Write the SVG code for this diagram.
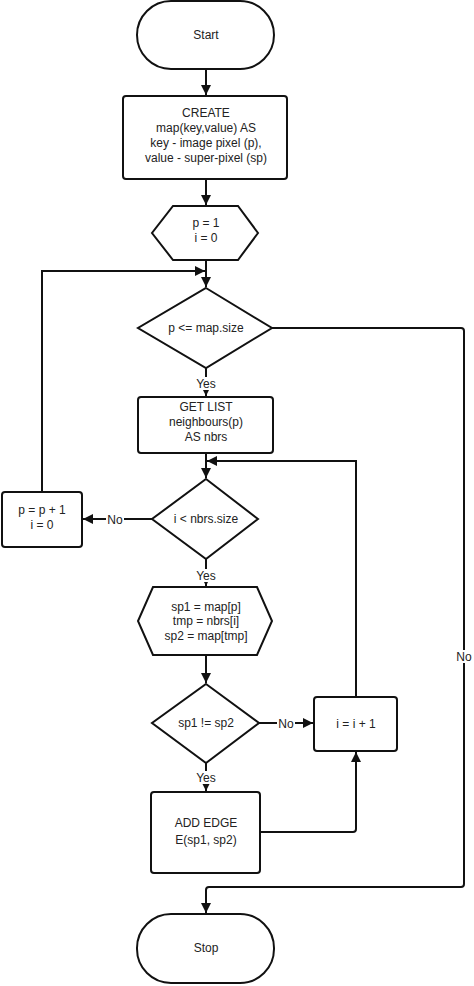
<svg xmlns="http://www.w3.org/2000/svg" width="474" height="986" viewBox="0 0 474 986">
<style>
.s{fill:#fff;stroke:#111;stroke-width:2}
.t{font-family:"Liberation Sans",Arial,sans-serif;font-size:12px;fill:#222;text-anchor:middle}
.c{fill:none;stroke:#111;stroke-width:2}
.lb{fill:#fff}
</style>
<defs>
<marker id="ah" viewBox="0 0 10 10" refX="10" refY="5" markerWidth="10" markerHeight="10" markerUnits="userSpaceOnUse" orient="auto">
<path d="M0,0 L10,5 L0,10 z" fill="#111"/>
</marker>
</defs>
<rect width="474" height="986" fill="#fff"/>
<g id="connectors">
<path class="c" d="M206,69 V95" marker-end="url(#ah)"/>
<path class="c" d="M206,179 V205" marker-end="url(#ah)"/>
<path class="c" d="M206,260 V287" marker-end="url(#ah)"/>
<path class="c" d="M42,492 V271 H205" marker-end="url(#ah)"/>
<path class="c" d="M206,368 V396" marker-end="url(#ah)"/>
<path class="c" d="M272,328 H461 Q464,328 464,331 V884 Q464,887 461,887 H209 Q206,887 206,890 V913" marker-end="url(#ah)"/>
<path class="c" d="M206,453 V478" marker-end="url(#ah)"/>
<path class="c" d="M356,697 V461 H207" marker-end="url(#ah)"/>
<path class="c" d="M152,519 H83" marker-end="url(#ah)"/>
<path class="c" d="M206,559 V586" marker-end="url(#ah)"/>
<path class="c" d="M206,655 V683" marker-end="url(#ah)"/>
<path class="c" d="M259,723 H313" marker-end="url(#ah)"/>
<path class="c" d="M206,763 V791" marker-end="url(#ah)"/>
<path class="c" d="M260,832 H353 Q356,832 356,829 V752" marker-end="url(#ah)"/>
<rect class="lb" x="194" y="377" width="24" height="13"/>
<text class="t" x="206" y="388">Yes</text>
<rect class="lb" x="194" y="569" width="24" height="13"/>
<text class="t" x="206" y="580">Yes</text>
<rect class="lb" x="194" y="771" width="24" height="13"/>
<text class="t" x="206" y="782">Yes</text>
<rect class="lb" x="106" y="513" width="18" height="13"/>
<text class="t" x="115" y="524">No</text>
<rect class="lb" x="277" y="717" width="18" height="13"/>
<text class="t" x="286" y="728">No</text>
<rect class="lb" x="456" y="650" width="16" height="13"/>
<text class="t" x="464" y="661">No</text>
</g>
<g id="start">
<rect class="s" x="137" y="1" width="137" height="68" rx="34"/>
<text class="t" x="206" y="39">Start</text>
</g>
<g id="create">
<rect class="s" x="123" y="96" width="164" height="83" rx="3"/>
<text class="t" x="206" y="117">CREATE</text>
<text class="t" x="206" y="132">map(key,value) AS</text>
<text class="t" x="206" y="147">key - image pixel (p),</text>
<text class="t" x="206" y="162">value - super-pixel (sp)</text>
</g>
<g id="init">
<path class="s" d="M173,206 H238 L258,233 L238,260 H173 L152,233 Z"/>
<text class="t" x="206" y="227">p = 1</text>
<text class="t" x="206" y="242">i = 0</text>
</g>
<g id="cond-p">
<path class="s" d="M206,288 L272,328 L206,368 L138,328 Z"/>
<text class="t" x="206" y="332">p &lt;= map.size</text>
</g>
<g id="getlist">
<rect class="s" x="138" y="397" width="135" height="56" rx="3"/>
<text class="t" x="206" y="411">GET LIST</text>
<text class="t" x="206" y="426">neighbours(p)</text>
<text class="t" x="206" y="441">AS nbrs</text>
</g>
<g id="cond-i">
<path class="s" d="M206,479 L258,519 L206,559 L152,519 Z"/>
<text class="t" x="206" y="523">i &lt; nbrs.size</text>
</g>
<g id="incp">
<rect class="s" x="2" y="492" width="80" height="55" rx="3"/>
<text class="t" x="42" y="514">p = p + 1</text>
<text class="t" x="42" y="529">i = 0</text>
</g>
<g id="assign">
<path class="s" d="M153,587 H257 L272,621 L257,655 H153 L138,621 Z"/>
<text class="t" x="206" y="611">sp1 = map[p]</text>
<text class="t" x="206" y="625">tmp = nbrs[i]</text>
<text class="t" x="206" y="640">sp2 = map[tmp]</text>
</g>
<g id="cond-sp">
<path class="s" d="M206,684 L259,723 L206,763 L152,723 Z"/>
<text class="t" x="206" y="727">sp1 != sp2</text>
</g>
<g id="inci">
<rect class="s" x="314" y="697" width="83" height="54" rx="3"/>
<text class="t" x="356" y="728">i = i + 1</text>
</g>
<g id="addedge">
<rect class="s" x="151" y="792" width="109" height="81" rx="3"/>
<text class="t" x="206" y="827">ADD EDGE</text>
<text class="t" x="206" y="844">E(sp1, sp2)</text>
</g>
<g id="stop">
<rect class="s" x="137" y="914" width="137" height="69" rx="34"/>
<text class="t" x="206" y="952">Stop</text>
</g>
</svg>
